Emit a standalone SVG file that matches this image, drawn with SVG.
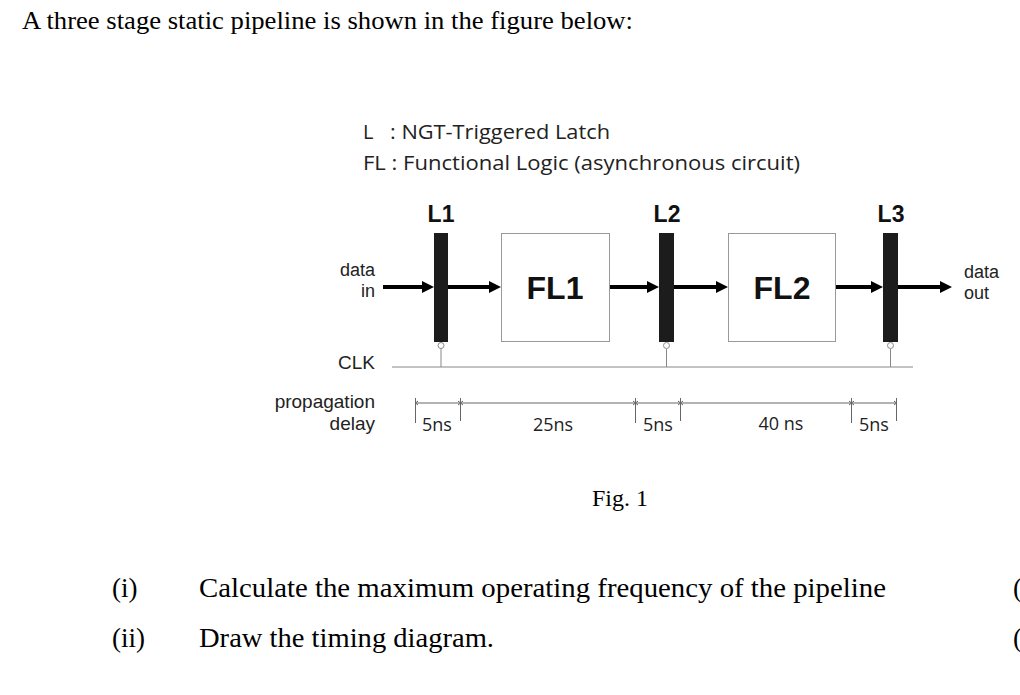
<svg xmlns="http://www.w3.org/2000/svg" width="1020" height="695" viewBox="0 0 1020 695">
<defs>
<style>
.serif{font-family:"Liberation Serif","Times New Roman",Times,serif;fill:#000}
.sans{font-family:"Open Sans","Liberation Sans",Arial,sans-serif;fill:#222}
.lab{font-family:"Liberation Sans",Arial,sans-serif;fill:#222}
.bold{font-family:"Liberation Sans",Arial,sans-serif;font-weight:bold;fill:#111}
.latch{fill:#1c1c1c}
.box{fill:#fff;stroke:#999;stroke-width:1}
.shaft{stroke:#000;stroke-width:4;fill:none}
.head{fill:#000}
.thin{stroke:#888;stroke-width:1;fill:none}
.dim{stroke:#666;stroke-width:1;fill:none}
</style>
</defs>
<rect width="1020" height="695" fill="#fff"/>
<text class="serif" x="22" y="29" font-size="25" textLength="611" lengthAdjust="spacingAndGlyphs">A three stage static pipeline is shown in the figure below:</text>
<g id="legend">
<text class="sans" x="363" y="139" font-size="20">L</text>
<text class="sans" x="390" y="139" font-size="20" textLength="220" lengthAdjust="spacingAndGlyphs">: NGT-Triggered Latch</text>
<text class="sans" x="363" y="170" font-size="20" textLength="437" lengthAdjust="spacingAndGlyphs">FL : Functional Logic (asynchronous circuit)</text>
</g>
<g id="io-labels">
<text class="lab" font-size="18" text-anchor="end"><tspan x="375" y="276">data</tspan><tspan x="375" y="297">in</tspan></text>
<text class="lab" font-size="18"><tspan x="964" y="278">data</tspan><tspan x="964" y="299">out</tspan></text>
<text class="lab" x="375" y="369" font-size="19" text-anchor="end">CLK</text>
<text class="lab" font-size="19" text-anchor="end"><tspan x="375" y="408">propagation</tspan><tspan x="375" y="430">delay</tspan></text>
</g>
<g id="clk">
<line class="thin" x1="392" y1="367" x2="913" y2="367"/>
</g>
<g id="L1">
<rect class="latch" x="434" y="233" width="14" height="109"/>
<circle cx="441" cy="345.5" r="3" fill="#fff" stroke="#888" stroke-width="1"/>
<line class="thin" x1="441" y1="349" x2="441" y2="367"/>
<text class="bold" x="441" y="222" font-size="23" text-anchor="middle">L1</text>
</g>
<g id="FL1">
<rect class="box" x="501.5" y="233.5" width="108" height="108"/>
<text class="bold" x="555" y="299" font-size="32" text-anchor="middle">FL1</text>
</g>
<g id="L2">
<rect class="latch" x="659" y="233" width="15" height="109"/>
<circle cx="666.5" cy="345.5" r="3" fill="#fff" stroke="#888" stroke-width="1"/>
<line class="thin" x1="666.5" y1="349" x2="666.5" y2="367"/>
<text class="bold" x="667" y="222" font-size="23" text-anchor="middle">L2</text>
</g>
<g id="FL2">
<rect class="box" x="728.5" y="233.5" width="107" height="108"/>
<text class="bold" x="782" y="299" font-size="32" text-anchor="middle">FL2</text>
</g>
<g id="L3">
<rect class="latch" x="883" y="233" width="15" height="109"/>
<circle cx="890.5" cy="345.5" r="3" fill="#fff" stroke="#888" stroke-width="1"/>
<line class="thin" x1="890.5" y1="349" x2="890.5" y2="367"/>
<text class="bold" x="891" y="222" font-size="23" text-anchor="middle">L3</text>
</g>
<g id="connectors">
<line class="shaft" x1="383" y1="287" x2="424" y2="287"/><polygon class="head" points="422,281 434,287 422,293"/>
<line class="shaft" x1="448" y1="287" x2="491" y2="287"/><polygon class="head" points="489,281 501,287 489,293"/>
<line class="shaft" x1="610" y1="287" x2="649" y2="287"/><polygon class="head" points="647,281 659,287 647,293"/>
<line class="shaft" x1="674" y1="287" x2="718" y2="287"/><polygon class="head" points="716,281 728,287 716,293"/>
<line class="shaft" x1="836" y1="287" x2="873" y2="287"/><polygon class="head" points="871,281 883,287 871,293"/>
<line class="shaft" x1="898" y1="287" x2="942" y2="287"/><polygon class="head" points="940,281 952,287 940,293"/>
</g>
<g id="delays">
<line class="dim" x1="415" y1="403" x2="896" y2="403"/>
<path class="dim" d="M415.5,398 V423 M460.5,398 V421 M635.5,398 V423 M680.5,398 V421 M851.5,398 V423 M896.5,398 V421"/>
<path class="dim" d="M418,401 L415.5,403 L418,405 M458,401 L460.5,403 L458,405 M463,401 L460.5,403 L463,405 M638,401 L635.5,403 L638,405 M633,401 L635.5,403 L633,405 M678,401 L680.5,403 L678,405 M683,401 L680.5,403 L683,405 M854,401 L851.5,403 L854,405 M849,401 L851.5,403 L849,405 M894,401 L896.5,403 L894,405"/>
<text class="sans" x="437" y="431" font-size="18" text-anchor="middle">5ns</text>
<text class="sans" x="553" y="431" font-size="18" text-anchor="middle">25ns</text>
<text class="sans" x="658" y="431" font-size="18" text-anchor="middle">5ns</text>
<text class="sans" x="781" y="430" font-size="18" text-anchor="middle">40 ns</text>
<text class="sans" x="874" y="431" font-size="18" text-anchor="middle">5ns</text>
</g>
<text class="serif" x="620" y="506" font-size="24" text-anchor="middle">Fig. 1</text>
<text class="serif" x="112" y="597" font-size="27">(i)</text>
<text class="serif" x="199" y="597" font-size="27" textLength="687" lengthAdjust="spacingAndGlyphs">Calculate the maximum operating frequency of the pipeline</text>
<text class="serif" x="1013" y="597" font-size="27">(</text>
<text class="serif" x="112" y="647" font-size="27">(ii)</text>
<text class="serif" x="199" y="647" font-size="27" textLength="295" lengthAdjust="spacingAndGlyphs">Draw the timing diagram.</text>
<text class="serif" x="1013" y="647" font-size="27">(</text>
</svg>
